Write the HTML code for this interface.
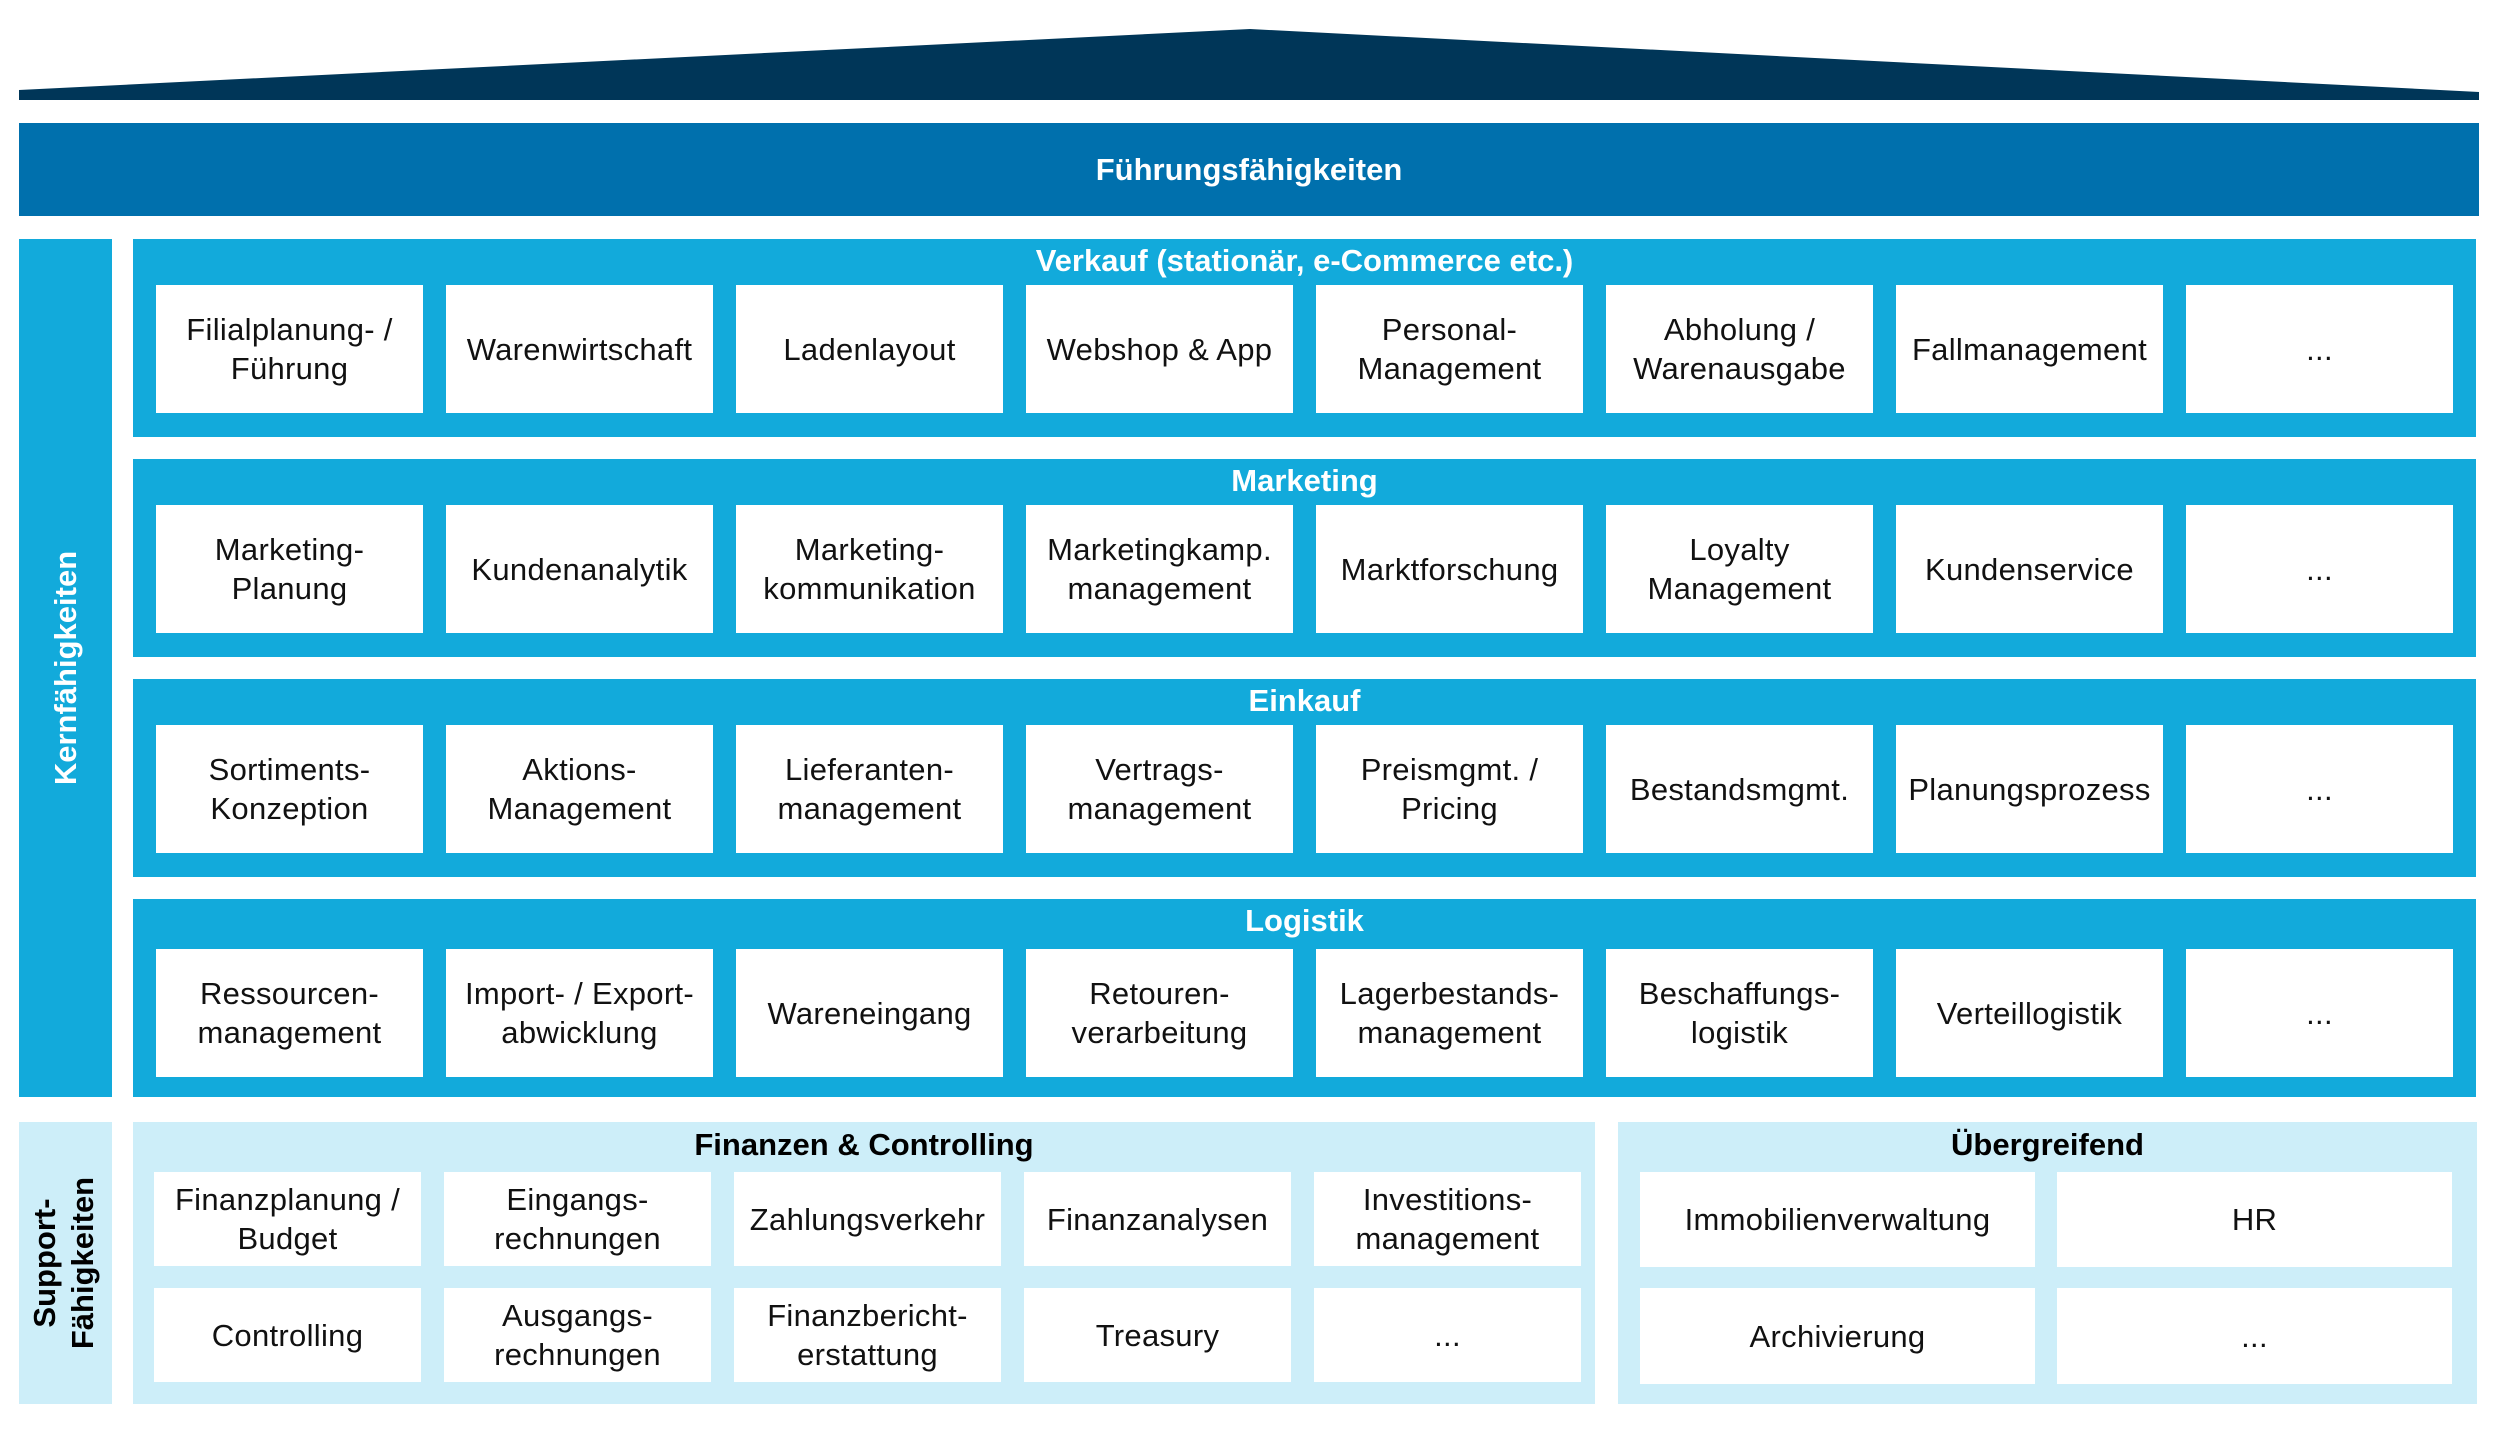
<!DOCTYPE html>
<html><head><meta charset="utf-8"><style>
*{margin:0;padding:0;box-sizing:border-box}
body{width:2500px;height:1432px;background:#fff;position:relative;overflow:hidden;font-family:"Liberation Sans",sans-serif}
.a{position:absolute}
.band{background:#0070ad;color:#fff;font-weight:bold;font-size:31px;display:flex;align-items:center;justify-content:center}
.sec{background:#12aadb}
.lt{background:#cdeef9}
.t{position:absolute;left:0;right:0;text-align:center;font-weight:bold;font-size:31px}
.b{position:absolute;background:#fff;display:flex;align-items:center;justify-content:center;text-align:center;font-size:31px;line-height:39px;color:#111;letter-spacing:0.3px}
.v{position:absolute;transform:rotate(-90deg);transform-origin:center;font-weight:bold;white-space:nowrap;text-align:center}
</style></head><body>
<svg class="a" style="left:0;top:0" width="2500" height="110"><polygon points="19,90 1250,29 2479,92 2479,100 19,100" fill="#003658"/></svg>
<div class="a band" style="left:19px;top:123px;width:2460px;height:93px">Führungsfähigkeiten</div>
<div class="a sec" style="left:19px;top:239px;width:93px;height:858px"></div>
<div class="v" style="left:-134px;top:648px;width:400px;height:40px;color:#fff;font-size:31px;line-height:40px">Kernfähigkeiten</div>
<div class="a lt" style="left:19px;top:1122px;width:93px;height:282px"></div>
<div class="v" style="left:-84px;top:1223px;width:300px;height:80px;color:#000;font-size:31px;line-height:38px">Support-<br>Fähigkeiten</div>

<div class="a sec" style="left:133px;top:239px;width:2343px;height:198px"><div class="t" style="top:4px;color:#fff">Verkauf (stationär, e-Commerce etc.)</div>
<div class="b" style="left:23px;top:46px;width:267px;height:128px">Filialplanung- /<br>Führung</div>
<div class="b" style="left:313px;top:46px;width:267px;height:128px">Warenwirtschaft</div>
<div class="b" style="left:603px;top:46px;width:267px;height:128px">Ladenlayout</div>
<div class="b" style="left:893px;top:46px;width:267px;height:128px">Webshop &amp; App</div>
<div class="b" style="left:1183px;top:46px;width:267px;height:128px">Personal-<br>Management</div>
<div class="b" style="left:1473px;top:46px;width:267px;height:128px">Abholung /<br>Warenausgabe</div>
<div class="b" style="left:1763px;top:46px;width:267px;height:128px">Fallmanagement</div>
<div class="b" style="left:2053px;top:46px;width:267px;height:128px">...</div></div>

<div class="a sec" style="left:133px;top:459px;width:2343px;height:198px"><div class="t" style="top:4px;color:#fff">Marketing</div>
<div class="b" style="left:23px;top:46px;width:267px;height:128px">Marketing-<br>Planung</div>
<div class="b" style="left:313px;top:46px;width:267px;height:128px">Kundenanalytik</div>
<div class="b" style="left:603px;top:46px;width:267px;height:128px">Marketing-<br>kommunikation</div>
<div class="b" style="left:893px;top:46px;width:267px;height:128px">Marketingkamp.<br>management</div>
<div class="b" style="left:1183px;top:46px;width:267px;height:128px">Marktforschung</div>
<div class="b" style="left:1473px;top:46px;width:267px;height:128px">Loyalty<br>Management</div>
<div class="b" style="left:1763px;top:46px;width:267px;height:128px">Kundenservice</div>
<div class="b" style="left:2053px;top:46px;width:267px;height:128px">...</div></div>

<div class="a sec" style="left:133px;top:679px;width:2343px;height:198px"><div class="t" style="top:4px;color:#fff">Einkauf</div>
<div class="b" style="left:23px;top:46px;width:267px;height:128px">Sortiments-<br>Konzeption</div>
<div class="b" style="left:313px;top:46px;width:267px;height:128px">Aktions-<br>Management</div>
<div class="b" style="left:603px;top:46px;width:267px;height:128px">Lieferanten-<br>management</div>
<div class="b" style="left:893px;top:46px;width:267px;height:128px">Vertrags-<br>management</div>
<div class="b" style="left:1183px;top:46px;width:267px;height:128px">Preismgmt. /<br>Pricing</div>
<div class="b" style="left:1473px;top:46px;width:267px;height:128px">Bestandsmgmt.</div>
<div class="b" style="left:1763px;top:46px;width:267px;height:128px">Planungsprozess</div>
<div class="b" style="left:2053px;top:46px;width:267px;height:128px">...</div></div>

<div class="a sec" style="left:133px;top:899px;width:2343px;height:198px"><div class="t" style="top:4px;color:#fff">Logistik</div>
<div class="b" style="left:23px;top:50px;width:267px;height:128px">Ressourcen-<br>management</div>
<div class="b" style="left:313px;top:50px;width:267px;height:128px">Import- / Export-<br>abwicklung</div>
<div class="b" style="left:603px;top:50px;width:267px;height:128px">Wareneingang</div>
<div class="b" style="left:893px;top:50px;width:267px;height:128px">Retouren-<br>verarbeitung</div>
<div class="b" style="left:1183px;top:50px;width:267px;height:128px">Lagerbestands-<br>management</div>
<div class="b" style="left:1473px;top:50px;width:267px;height:128px">Beschaffungs-<br>logistik</div>
<div class="b" style="left:1763px;top:50px;width:267px;height:128px">Verteillogistik</div>
<div class="b" style="left:2053px;top:50px;width:267px;height:128px">...</div></div>

<div class="a lt" style="left:133px;top:1122px;width:1462px;height:282px"><div class="t" style="top:5px;color:#000">Finanzen &amp; Controlling</div>
<div class="b" style="left:21px;top:50px;width:267px;height:94px">Finanzplanung /<br>Budget</div>
<div class="b" style="left:311px;top:50px;width:267px;height:94px">Eingangs-<br>rechnungen</div>
<div class="b" style="left:601px;top:50px;width:267px;height:94px">Zahlungsverkehr</div>
<div class="b" style="left:891px;top:50px;width:267px;height:94px">Finanzanalysen</div>
<div class="b" style="left:1181px;top:50px;width:267px;height:94px">Investitions-<br>management</div>
<div class="b" style="left:21px;top:166px;width:267px;height:94px">Controlling</div>
<div class="b" style="left:311px;top:166px;width:267px;height:94px">Ausgangs-<br>rechnungen</div>
<div class="b" style="left:601px;top:166px;width:267px;height:94px">Finanzbericht-<br>erstattung</div>
<div class="b" style="left:891px;top:166px;width:267px;height:94px">Treasury</div>
<div class="b" style="left:1181px;top:166px;width:267px;height:94px">...</div></div>

<div class="a lt" style="left:1618px;top:1122px;width:859px;height:282px"><div class="t" style="top:5px;color:#000">Übergreifend</div>
<div class="b" style="left:22px;top:50px;width:395px;height:95px">Immobilienverwaltung</div>
<div class="b" style="left:439px;top:50px;width:395px;height:95px">HR</div>
<div class="b" style="left:22px;top:166px;width:395px;height:96px">Archivierung</div>
<div class="b" style="left:439px;top:166px;width:395px;height:96px">...</div></div>
</body></html>
